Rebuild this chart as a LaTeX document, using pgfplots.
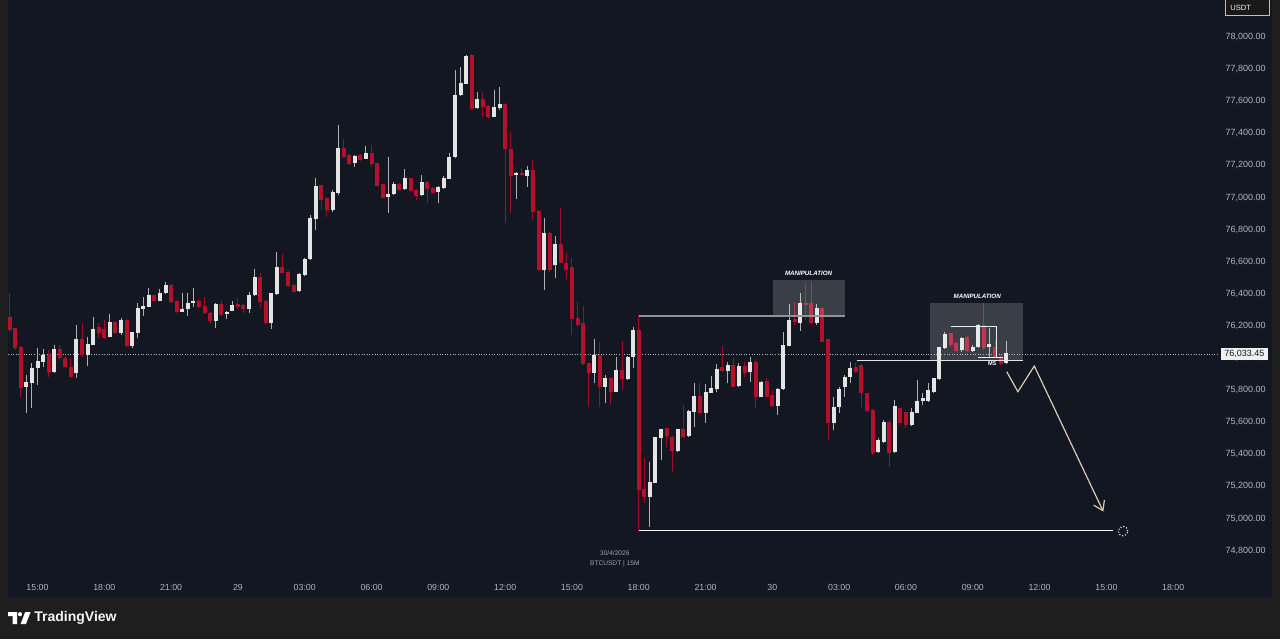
\documentclass[border=0pt]{standalone}
\usepackage{pgfplots}
\pgfplotsset{compat=1.18}
\usepackage{pgfplotstable}
\usetikzlibrary{arrows.meta}
\usepackage{fontspec}
\setmainfont{Liberation Sans}
\definecolor{bgout}{HTML}{1E1E1E}
\definecolor{chartbg}{HTML}{131722}
\definecolor{upc}{HTML}{E4E4E4}
\definecolor{upwick}{HTML}{B0B0B0}
\definecolor{dnc}{HTML}{B4102B}
\definecolor{dnwick}{HTML}{9A1028}
\definecolor{lbl}{HTML}{B2B5BE}
\definecolor{cream}{HTML}{D9CCB0}
\definecolor{small}{HTML}{A0A3AB}

\pgfplotstableread{
i o h l c
-2 75817 75894 75655 75853
-1 75846 75967 75686 75936
0 75936 76061 75832 75981
1 75977 76054 75946 76019
3 75915 76081 75905 76054
7 75905 76206 75873 76116
9 76019 76133 75950 76087
10 76081 76258 76081 76181
13 76133 76274 76133 76224
15 76158 76247 76143 76237
17 76075 76165 76060 76160
18 76158 76340 76123 76314
19 76307 76382 76262 76324
20 76320 76438 76320 76390
22 76357 76428 76357 76407
23 76407 76476 76400 76455
26 76289 76403 76285 76307
27 76307 76407 76262 76345
28 76345 76434 76320 76355
32 76231 76340 76189 76336
34 76275 76293 76241 76289
35 76293 76357 76290 76332
38 76307 76411 76283 76390
39 76390 76553 76385 76503
42 76220 76407 76181 76403
43 76400 76663 76393 76565
47 76419 76528 76413 76521
48 76517 76625 76510 76619
49 76615 76891 76611 76874
50 76868 77124 76798 77072
53 76920 77047 76912 77032
54 77030 77452 77016 77311
57 77213 77265 77192 77261
59 77240 77321 77238 77279
63 77001 77254 76901 77024
64 77022 77099 77016 77084
66 77051 77175 77047 77119
69 77016 77140 77009 77095
72 77036 77072 76964 77066
73 77059 77134 77055 77124
74 77117 77275 77113 77250
75 77250 77794 77244 77639
76 77637 77811 77632 77715
77 77707 77888 77705 77882
79 77556 77659 77551 77614
82 77504 77670 77500 77566
83 77558 77691 77545 77580
86 77138 77161 76988 77155
88 77134 77196 77068 77171
91 76548 76870 76424 76781
93 76579 76760 76496 76710
100 75909 76116 75842 76019
102 75821 75894 75718 75873
104 75790 76004 75788 75925
106 75867 76012 75862 76004
107 76004 76195 75936 76174
110 75136 75354 74949 75230
111 75223 75508 75219 75506
112 75500 75560 75365 75556
115 75423 75560 75416 75556
117 75514 75675 75510 75672
118 75666 75842 75572 75763
120 75659 75838 75597 75786
121 75784 75888 75780 75815
122 75809 75963 75790 75934
124 75921 75977 75842 75956
126 75826 75967 75821 75950
128 75915 76008 75853 75977
130 75759 75859 75755 75853
133 75701 75811 75645 75805
134 75805 76164 75801 76081
135 76075 76336 76075 76237
137 76220 76403 76170 76345
140 76220 76336 76206 76309
143 75597 75755 75551 75697
144 75693 75817 75660 75805
145 75817 75894 75759 75884
146 75884 75977 75842 75936
151 75416 75500 75406 75489
152 75479 75614 75468 75603
154 75416 75738 75406 75701
157 75583 75686 75578 75666
158 75659 75863 75655 75734
159 75734 75780 75707 75749
160 75734 75842 75728 75801
161 75790 75873 75780 75873
162 75869 76071 75863 76066
163 76060 76164 76054 76147
166 76050 76129 76039 76123
168 76046 76081 76039 76071
169 76066 76210 76060 76206
171 76066 76185 75998 76087
174 75967 76108 75963 76033
}\updata

\pgfplotstableread{
i o h l c
-5 76258 76403 76165 76175
-4 76185 76190 76050 76061
-3 76071 76075 75759 75811
2 76019 76050 75884 75915
4 76056 76081 75988 75998
5 75998 76012 75936 75942
6 75942 75998 75873 75884
8 76116 76216 76008 76019
11 76195 76216 76123 76154
12 76179 76237 76120 76123
14 76224 76230 76150 76154
16 76237 76240 76070 76075
21 76390 76395 76355 76357
24 76455 76460 76345 76351
25 76357 76360 76278 76289
29 76357 76360 76312 76316
30 76324 76382 76275 76278
31 76283 76285 76216 76231
33 76336 76357 76262 76268
36 76334 76372 76305 76316
37 76330 76335 76278 76303
40 76507 76532 76309 76351
41 76355 76360 76206 76216
44 76565 76648 76528 76532
45 76536 76540 76445 76449
46 76455 76460 76405 76413
51 77078 77080 76922 76984
52 76995 77000 76881 76922
55 77311 77362 77244 77254
56 77265 77270 77205 77209
58 77265 77270 77230 77234
60 77279 77327 77192 77209
61 77213 77215 77070 77074
62 77082 77085 76995 76999
65 77084 77088 77043 77047
67 77119 77122 77036 77043
68 77047 77050 76984 77009
70 77099 77102 76964 77055
71 77061 77065 77025 77030
78 77888 77895 77545 77551
80 77612 77659 77504 77566
81 77572 77575 77487 77500
84 77583 77586 76839 77300
85 77300 77410 76901 77136
87 77155 77182 77134 77140
89 77171 77234 76860 76912
90 76918 76920 76545 76548
92 76781 76785 76538 76548
94 76710 76932 76590 76594
95 76594 76652 76486 76548
96 76565 76621 76143 76241
97 76247 76351 76195 76206
98 76220 76324 75956 75963
99 75967 75970 75697 75909
101 76019 76102 75697 75821
103 75877 75880 75707 75790
105 75925 76108 75800 75867
108 76174 76268 74925 75178
109 75182 75375 75094 75132
113 75562 75565 75448 75514
114 75510 75512 75292 75423
116 75556 75707 75500 75510
119 75763 75842 75655 75659
123 75942 76075 75915 75921
125 75956 75998 75817 75821
127 75950 75977 75884 75909
129 75977 75992 75686 75759
131 75859 75873 75755 75759
132 75770 75801 75697 75701
136 76240 76351 76206 76225
138 76345 76465 76237 76330
139 76341 76476 76206 76216
141 76309 76315 76100 76102
142 76116 76120 75489 75593
147 75942 75967 75904 75915
148 75956 75960 75697 75784
149 75784 75784 75666 75672
150 75676 75680 75396 75406
153 75603 75614 75323 75410
155 75686 75690 75583 75593
156 75666 75666 75562 75583
164 76154 76154 76071 76081
165 76096 76102 76039 76046
167 76133 76137 76039 76046
170 76206 76341 76050 76060
172 76071 76112 75998 76004
173 76008 76019 75956 75963
}\dndata

\begin{document}
\begin{tikzpicture}
\useasboundingbox (0,0) rectangle (640pt,319.5pt);
\fill[bgout] (0,0) rectangle (640pt,319.5pt);
\fill[chartbg] (4pt,21pt) rectangle (636pt,319.5pt);
\begin{axis}[
  at={(4pt,32pt)}, anchor=south west,
  scale only axis, width=605pt, height=287.5pt,
  xmin=-5.3, xmax=212.05, ymin=74648, ymax=78230.5,
  axis line style={draw=none}, major tick length=0pt, clip=false,
  scaled y ticks=false,
  xtick={0,12,...,204},
  xticklabels={15:00,18:00,21:00,29,03:00,06:00,09:00,12:00,15:00,18:00,21:00,30,03:00,06:00,09:00,12:00,15:00,18:00},
  xticklabel style={anchor=center, yshift=-6pt, inner sep=0pt, font=\fontsize{4.4}{5}\selectfont, text=lbl},
  ytick={74800,75000,...,78000},
  yticklabel pos=right,
  yticklabel style={anchor=east, xshift=24pt, inner sep=0pt, font=\fontsize{4.5}{5}\selectfont, text=lbl,
    /pgf/number format/.cd, fixed, fixed zerofill, precision=2, 1000 sep={,}, assume math mode=true},
]
% current price dotted line
\draw[dash pattern=on 0.5pt off 0.8pt, color=lbl, line width=0.4pt] (axis cs:-5.3,76025) -- (axis cs:212.05,76025);

% wicks
\addplot[draw=none, mark=none, forget plot, error bars/.cd, y dir=minus, y explicit, error mark=none,
  error bar style={line width=0.5pt, draw=upwick}]
  table[x=i, y=h, y error minus expr={\thisrow{h}-\thisrow{l}}] {\updata};
\addplot[draw=none, mark=none, forget plot, error bars/.cd, y dir=minus, y explicit, error mark=none,
  error bar style={line width=0.5pt, draw=dnwick}]
  table[x=i, y=h, y error minus expr={\thisrow{h}-\thisrow{l}}] {\dndata};
% bodies
\addplot[draw=none, mark=none, forget plot, error bars/.cd, y dir=minus, y explicit, error mark=none,
  error bar style={line width=2pt, draw=upc}]
  table[x=i, y=c, y error minus expr={\thisrow{c}-\thisrow{o}}] {\updata};
\addplot[draw=none, mark=none, forget plot, error bars/.cd, y dir=minus, y explicit, error mark=none,
  error bar style={line width=2pt, draw=dnc}]
  table[x=i, y=o, y error minus expr={\thisrow{o}-\thisrow{c}}] {\dndata};

% annotations
\fill[white, opacity=0.17] (axis cs:132.1,76262) rectangle (axis cs:145,76486);
\draw[color=gray!85, line width=0.6pt] (axis cs:108,76262) -- (axis cs:145,76262);
\node[font=\fontsize{3.1}{3.5}\selectfont\bfseries\itshape, text=white] at (axis cs:138.5,76530) {MANIPULATION};

\fill[white, opacity=0.17] (axis cs:160.3,75987) rectangle (axis cs:177,76342);
\draw[color=white!80!gray, line width=0.5pt] (axis cs:147.2,75987.5) -- (axis cs:177,75987.5);
\draw[color=white!85!gray, line width=0.35pt] (axis cs:164.1,76199) -- (axis cs:172.2,76199) -- (axis cs:172.2,76004);
\draw[color=white!85!gray, line width=0.35pt] (axis cs:168.9,76004) -- (axis cs:173.4,76004);
\node[font=\fontsize{3.1}{3.5}\selectfont\bfseries\itshape, text=white] at (axis cs:168.8,76386) {MANIPULATION};
\node[font=\fontsize{2.8}{3}\selectfont\bfseries, text=white] at (axis cs:171.5,75966) {MS};

\draw[color=white!80!cream, line width=0.6pt] (axis cs:108,74924) -- (axis cs:193.2,74924);
\draw[color=white!80!cream, line width=0.5pt, dash pattern=on 0.6pt off 0.9pt] (axis cs:195.0,74921) circle[radius=2.4pt];
\draw[color=cream, line width=0.6pt, -{Straight Barb[length=4.5pt,width=6pt]}]
  (axis cs:174.1,75915) -- (axis cs:176.1,75790) -- (axis cs:179.05,75950) -- (axis cs:191.45,75043);

\node[font=\fontsize{3.3}{4}\selectfont, text=small] at (axis cs:103.7,74785) {30/4/2026};
\node[font=\fontsize{3.3}{4}\selectfont, text=small] at (axis cs:103.7,74716) {BTCUSDT | 15M};

% price label
\node[anchor=east, fill=white!88!gray, text=chartbg, inner xsep=1.6pt, inner ysep=0pt, minimum height=6pt,
  font=\fontsize{4.5}{5}\selectfont] at ([xshift=25pt]axis cs:212.05,76025) {76,033.45};
\end{axis}
% USDT box
\draw[fill=black!90, draw=gray!50, line width=0.4pt] (612.5pt,319.6pt) rectangle (634.5pt,312pt);
\node[anchor=west, font=\fontsize{3.8}{4}\selectfont, text=white!90!gray, inner sep=0pt] at (615pt,315.8pt) {USDT};
% TradingView logo
\fill[white] (4pt,13.5pt) -- (8.5pt,13.5pt) -- (8.5pt,7.5pt) -- (6.3pt,7.5pt) -- (6.3pt,11.5pt) -- (4pt,11.5pt) -- cycle;
\fill[white] (10pt,12.4pt) circle[radius=1.05pt];
\fill[white] (12.6pt,13.5pt) -- (15.3pt,13.5pt) -- (13pt,7.5pt) -- (10.3pt,7.5pt) -- cycle;
\node[anchor=west, inner sep=0pt, font=\fontsize{7}{8}\selectfont\bfseries, text=white!92!gray] at (17pt,10.5pt) {TradingView};
\end{tikzpicture}
\end{document}
